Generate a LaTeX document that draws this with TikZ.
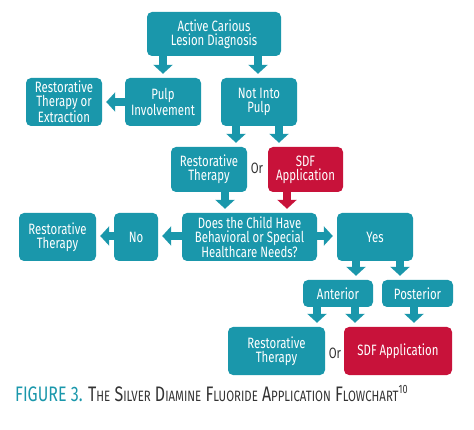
\documentclass[tikz,border=0pt]{standalone}
\usepackage{fontspec}
\setmainfont{Fira Sans}[FakeStretch=0.76]
\usetikzlibrary{arrows.meta}
\definecolor{teal1}{HTML}{1A97AB}
\definecolor{red1}{HTML}{C8123A}
\definecolor{capgray}{HTML}{333333}
\newcommand\mysc[2]{#1{\fontsize{15}{16}\selectfont #2}}
\begin{document}
\begin{tikzpicture}[x=1pt,y=-1pt,
  box/.style={fill=teal1,rounded corners=5pt,text=white,align=center,
    font=\fontsize{15}{14}\selectfont,inner sep=0pt},
  redbox/.style={box,fill=red1},
  arr/.style={line width=8pt,draw=teal1,-{Triangle[width=19pt,length=9pt]},shorten >=4pt},
  redarr/.style={arr,draw=red1},
  ortext/.style={font=\fontsize{15}{14}\selectfont,text=capgray,inner sep=0pt}]
\useasboundingbox (0,0) rectangle (474,430);
\node[box,minimum width=134pt,minimum height=44pt] (top) at (214,34) {Active Carious\\Lesion Diagnosis};
\node[box,minimum width=76pt,minimum height=48pt] (pulp) at (163,102) {Pulp\\Involvement};
\node[box,minimum width=76pt,minimum height=48pt] (rte) at (64,102) {Restorative\\Therapy or\\Extraction};
\node[box,minimum width=76pt,minimum height=48pt] (nip) at (259,102) {Not Into\\Pulp};
\node[box,minimum width=76pt,minimum height=45pt] (rt1) at (209,169.5) {Restorative\\Therapy};
\node[redbox,minimum width=75pt,minimum height=45pt] (sdf1) at (305.5,169.5) {SDF\\Application};
\node[ortext] (or1) at (257,168) {Or};
\node[box,minimum width=135pt,minimum height=48pt] (q) at (249.5,237) {Does the Child Have\\Behavioral or Special\\Healthcare Needs?};
\node[box,minimum width=44pt,minimum height=48pt] (no) at (136,237) {No};
\node[box,minimum width=77pt,minimum height=48pt] (rtl) at (57.5,237) {Restorative\\Therapy};
\node[box,minimum width=76pt,minimum height=48pt] (yes) at (375,237) {Yes};
\node[box,minimum width=70pt,minimum height=27pt] (ant) at (338,293.5) {Anterior};
\node[box,minimum width=71pt,minimum height=27pt] (post) at (417.5,293.5) {Posterior};
\node[box,minimum width=97pt,minimum height=48pt] (rt2) at (276.5,351) {Restorative\\Therapy};
\node[redbox,minimum width=108pt,minimum height=48pt] (sdf2) at (398,351) {SDF Application};
\node[ortext] (or2) at (335,353) {Or};
% arrows
\draw[arr] (top.south -| pulp.north) -- (pulp.north);
\draw[arr] ([xshift=-1pt]top.south -| nip.north) -- ([xshift=-1pt]nip.north);
\draw[arr] (pulp.west) -- (rte.east);
\draw[arr] ([xshift=-23pt]nip.south) -- ([xshift=-23pt]nip.south |- rt1.north);
\draw[arr] ([xshift=20pt]nip.south) -- ([xshift=20pt]nip.south |- sdf1.north);
\draw[arr] ([xshift=16pt]rt1.south) -- ([xshift=16pt]rt1.south |- q.north);
\draw[redarr] ([xshift=-18.5pt]sdf1.south) -- ([xshift=-18.5pt]sdf1.south |- q.north);
\draw[arr] ([yshift=1pt]q.west) -- ([yshift=1pt]no.east);
\draw[arr] ([yshift=1pt]no.west) -- ([yshift=1pt]rtl.east);
\draw[arr] ([yshift=1pt]q.east) -- ([yshift=1pt]yes.west);
\draw[arr] ([xshift=-19pt]yes.south) -- ([xshift=-19pt]yes.south |- ant.north);
\draw[arr] ([xshift=25pt]yes.south) -- ([xshift=25pt]yes.south |- post.north);
\draw[arr] ([xshift=-21pt]ant.south) -- ([xshift=-21pt]ant.south |- rt2.north);
\draw[arr] ([xshift=17pt]ant.south) -- ([xshift=17pt]ant.south |- sdf2.north);
\draw[arr] ([xshift=-3.5pt]post.south) -- ([xshift=-3.5pt]post.south |- sdf2.north);
% caption
\node[anchor=west,inner sep=0pt,font=\fontsize{21}{22}\selectfont] (cap) at (15,394)
 {\textcolor{teal1}{FIGURE 3.} \textcolor{capgray}{\mysc{T}{HE} \mysc{S}{ILVER} \mysc{D}{IAMINE} \mysc{F}{LUORIDE} \mysc{A}{PPLICATION} \mysc{F}{LOWCHART}\raisebox{8pt}{\fontsize{12}{12}\selectfont 10}}};
\end{tikzpicture}
\end{document}
